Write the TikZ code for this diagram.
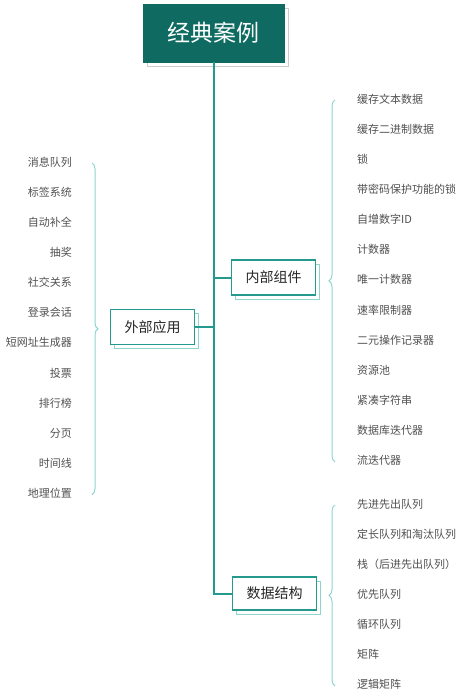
\documentclass[tikz,border=0pt]{standalone}
\usepackage{fontspec}
\setmainfont{Noto Sans CJK SC}
\usetikzlibrary{positioning,shadows,decorations.pathreplacing}
\usepackage{xcolor}
\definecolor{rootteal}{HTML}{0F6B61}
\definecolor{lineteal}{HTML}{239A8D}
\definecolor{paleteal}{HTML}{8ED5CE}
\definecolor{leafgray}{HTML}{505050}
\tikzset{
  root/.style={fill=rootteal,draw=rootteal,text=white,minimum width=141pt,minimum height=58pt,font=\fontsize{23}{26}\selectfont,
    copy shadow={shadow xshift=4pt,shadow yshift=-4pt,fill=white,draw=gray!40,line width=.8pt}},
  hub/.style={draw=lineteal,line width=1.2pt,fill=white,minimum width=84pt,minimum height=35pt,font=\fontsize{14}{16}\selectfont,text=black!85,
    copy shadow={shadow xshift=4pt,shadow yshift=-4pt,fill=white,draw=paleteal,line width=1pt}},
  leafin/.style={text width=100pt,align=left,inner sep=2pt,text height=8.5pt,text depth=2.5pt,font=\fontsize{11}{13}\selectfont,text=leafgray,node distance=14.75pt},
  leafout/.style={leafin,text width=80pt,align=right},
  trunk/.style={draw=lineteal,line width=2pt},
  brace/.style={draw=paleteal,line width=1pt,decorate,decoration={brace,amplitude=6pt}}
}
\begin{document}
\begin{tikzpicture}[x=1pt,y=-1pt]
    \useasboundingbox (0,0) rectangle (474,699);
    \node[root] (root) at (213.5,33) {经典案例};
    \node[hub] (in) at (273.5,277.5) {内部组件};
    \node[hub] (out) at (152.5,327) {外部应用};
    \node[hub,minimum height=33pt] (ds) at (274.5,593.5) {数据结构};
    \draw[trunk] (root.south) |- (ds.west);
    \draw[trunk] (root.south |- in.west) -- (in.west);
    \draw[trunk] (root.south |- out.east) -- (out.east);

    \node[leafin,anchor=west] (in1) at (355,100) {缓存文本数据};
    \node[leafin,below=of in1] (in2) {缓存二进制数据};
    \node[leafin,below=of in2] (in3) {锁};
    \node[leafin,below=of in3] (in4) {带密码保护功能的锁};
    \node[leafin,below=of in4] (in5) {自增数字ID};
    \node[leafin,below=of in5] (in6) {计数器};
    \node[leafin,below=of in6] (in7) {唯一计数器};
    \node[leafin,below=of in7] (in8) {速率限制器};
    \node[leafin,below=of in8] (in9) {二元操作记录器};
    \node[leafin,below=of in9] (in10) {资源池};
    \node[leafin,below=of in10] (in11) {紧凑字符串};
    \node[leafin,below=of in11] (in12) {数据库迭代器};
    \node[leafin,below=of in12] (in13) {流迭代器};
    \draw[brace] ([xshift=-20pt]in13.west) -- ([xshift=-20pt]in1.west);

    \node[leafout,anchor=east] (out1) at (74,163) {消息队列};
    \node[leafout,below=of out1] (out2) {标签系统};
    \node[leafout,below=of out2] (out3) {自动补全};
    \node[leafout,below=of out3] (out4) {抽奖};
    \node[leafout,below=of out4] (out5) {社交关系};
    \node[leafout,below=of out5] (out6) {登录会话};
    \node[leafout,below=of out6] (out7) {短网址生成器};
    \node[leafout,below=of out7] (out8) {投票};
    \node[leafout,below=of out8] (out9) {排行榜};
    \node[leafout,below=of out9] (out10) {分页};
    \node[leafout,below=of out10] (out11) {时间线};
    \node[leafout,below=of out11] (out12) {地理位置};
    \draw[brace] ([xshift=18pt]out1.east) -- ([xshift=18pt]out12.east);

    \node[leafin,anchor=west] (ds1) at (355,505) {先进先出队列};
    \node[leafin,below=of ds1] (ds2) {定长队列和淘汰队列};
    \node[leafin,below=of ds2] (ds3) {栈（后进先出队列）};
    \node[leafin,below=of ds3] (ds4) {优先队列};
    \node[leafin,below=of ds4] (ds5) {循环队列};
    \node[leafin,below=of ds5] (ds6) {矩阵};
    \node[leafin,below=of ds6] (ds7) {逻辑矩阵};
    \draw[brace] ([xshift=-20pt]ds7.west) -- ([xshift=-20pt]ds1.west);
  \end{tikzpicture}
\end{document}
